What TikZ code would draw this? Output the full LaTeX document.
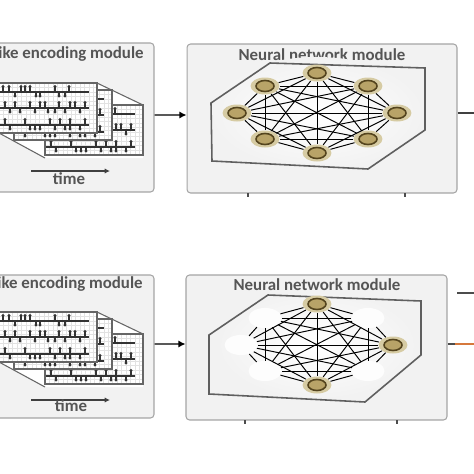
\documentclass[tikz,border=0pt]{standalone}
\usepackage{fontspec}
\setmainfont{Carlito}
\usetikzlibrary{shapes.geometric,arrows.meta}

\definecolor{boxgray}{RGB}{242,242,242}
\definecolor{boxline}{RGB}{165,165,165}
\definecolor{hexline}{RGB}{95,95,95}
\definecolor{tanlight}{RGB}{214,203,163}
\definecolor{tanmid}{RGB}{184,163,104}
\definecolor{tanline}{RGB}{84,68,30}
\definecolor{gridgray}{RGB}{226,226,226}
\definecolor{textgray}{RGB}{85,85,85}
\definecolor{orangeout}{RGB}{214,120,60}

% one row of spikes: y, spikes up, spikes down
\newcommand{\spikerow}[3]{%
  \draw[spikeline] (0,#1) -- (90,#1);
  \foreach \sx in {#2} {\draw[spikeline] (\sx,#1) -- (\sx,#1-5); \fill[black!80] (\sx,#1-5.5) circle (0.9pt);}
  \foreach \sx in {#3} {\draw[spikeline] (\sx,#1) -- (\sx,#1+3.5); \fill[black!80] (\sx,#1+4) circle (0.9pt);}
}
% one raster panel
\newcommand{\spikepanel}[1]{%
  \begin{scope}[shift={#1}]
    \fill[white] (0,0) rectangle (98,50);
    \foreach \gx in {4.5,9,...,94.5} \draw[gridline] (\gx,0) -- (\gx,50);
    \foreach \gy in {4.5,9,...,46} \draw[gridline] (0,\gy) -- (98,\gy);
    \spikerow{9}{4,10,22,26,31,56,70}{16,37,41,60,66}
    \spikerow{25}{6,16,31,41,46,60,71,76,86}{11,21,36,49,56,66,81}
    \spikerow{42}{6,26,51,61,71,86}{11,31,36,41,56,66,71,81}
    \draw[panelline] (0,0) rectangle (98,50);
  \end{scope}}
% stack of panels with time axis
\newcommand{\spikestack}{%
  \fill[white] (-1,83) -- (97,83) -- (143,105) -- (143,158) -- (45,158) -- (-1,133) -- cycle;
  \spikepanel{(45,105)}
  \spikepanel{(14,90)}
  \spikepanel{(-1,83)}
  \draw[panelline] (97,83) -- (143,105);
  \draw[panelline] (-1,133) -- (45,158);
  \draw[timearrow] (31,171) -- (110,171);
}

\begin{document}
\begin{tikzpicture}
[x=0.02cm,y=-0.02cm,
  modbox/.style={draw=boxline,fill=boxgray,rounded corners=2pt,line width=0.6pt},
  modtitle/.style={font=\fontsize{9.6}{11}\selectfont\bfseries,text=textgray,inner sep=0pt},
  gridline/.style={draw=gridgray,line width=0.25pt},
  spikeline/.style={line width=0.6pt,black!80},
  panelline/.style={draw=black!60,line width=0.6pt},
  timearrow/.style={-{Latex[length=3pt,width=3pt]},line width=0.6pt,black!75},
  flowarrow/.style={-{Latex[length=4pt,width=4pt]},line width=0.7pt},
  hexframe/.style={draw=hexline,line width=0.9pt},
  netedge/.style={line width=0.55pt,black},
  nnode/.style={ellipse,minimum width=0.58cm,minimum height=0.34cm,inner sep=0pt,fill=tanlight,
    path picture={\draw[tanline,line width=0.9pt,fill=tanmid] (path picture bounding box.center) ellipse (0.18cm and 0.11cm);}},
  fadenode/.style={ellipse,minimum width=0.66cm,minimum height=0.4cm,inner sep=0pt,fill=white,fill opacity=0.85}]
\useasboundingbox (0,0) rectangle (474,474);
\clip (0,0) rectangle (474,474);

% upper row
\node (enc1) at (72,117.5) [modbox,minimum width=3.28cm,minimum height=2.98cm] {};
\node (nn1) at (322,118.5) [modbox,minimum width=5.4cm,minimum height=2.98cm] {};
\node (enct1) at (144,54) [modtitle,anchor=east] {Spike encoding module};
\node (nnt1) at (322,55) [modtitle] {Neural network module};
\spikestack
\node (time1) at (69,179) [modtitle] {time};
% network
\shade[inner color=white,outer color=boxgray] (317,113) ellipse (108 and 56);
\draw[hexframe] (270,63) -- (425,68) -- (425,130) -- (368,169) -- (212,161) -- (211,103) -- cycle;
\node (a1) at (317,73) [nnode] {};
\node (a2) at (368,86) [nnode] {};
\node (a3) at (397,113) [nnode] {};
\node (a4) at (368,139) [nnode] {};
\node (a5) at (317,153) [nnode] {};
\node (a6) at (265,139) [nnode] {};
\node (a7) at (237,113) [nnode] {};
\node (a8) at (265,86) [nnode] {};
\foreach \i in {1,...,7} {
  \pgfmathtruncatemacro\k{\i+1}
  \foreach \j in {\k,...,8} \draw[netedge] (a\i) -- (a\j);
}
% links
\draw[flowarrow] ([yshift=0.05cm]enc1.east) -- ([yshift=0.07cm]nn1.west);
\coordinate (out1) at (474,113);
\draw[line width=0.8pt,black!75] (nn1.east |- out1) -- (out1);
\draw[line width=0.8pt,black!70] (248,193) -- (248,197) (405,193) -- (405,197);

% lower row
\node (enc2) at (72,346.5) [modbox,minimum width=3.28cm,minimum height=2.86cm] {};
\node (nn2) at (316.5,347.5) [modbox,minimum width=5.22cm,minimum height=2.9cm] {};
\node (enct2) at (143,284) [modtitle,anchor=east] {Spike encoding module};
\node (nnt2) at (317,285) [modtitle] {Neural network module};
\begin{scope}[shift={(0,229)}]
  \spikestack
\end{scope}
\node (time2) at (71,406) [modtitle] {time};
% network
\shade[inner color=white,outer color=boxgray] (317,345) ellipse (100 and 54);
\draw[hexframe] (268,295) -- (421,301) -- (421,355) -- (365,402) -- (209,394) -- (209,335) -- cycle;
\node (b1) at (317,304) [nnode] {};
\node (b2) at (368,318) [fadenode] {};
\node (b3) at (393,345) [nnode] {};
\node (b4) at (368,371) [fadenode] {};
\node (b5) at (317,385) [nnode] {};
\node (b6) at (265,371) [fadenode] {};
\node (b7) at (241,345) [fadenode] {};
\node (b8) at (265,318) [fadenode] {};
\foreach \i in {1,...,7} {
  \pgfmathtruncatemacro\k{\i+1}
  \foreach \j in {\k,...,8} \draw[netedge] (b\i) -- (b\j);
}
% links
\draw[flowarrow] ([yshift=0.05cm]enc2.east) -- ([yshift=0.07cm]nn2.west);
\coordinate (out2a) at (457,293);
\coordinate (out2) at (474,293);
\draw[line width=0.8pt,black!70] (out2a) -- (out2);
\coordinate (out3a) at (455,344);
\coordinate (out3) at (474,344);
\draw[line width=1pt,black!70] (nn2.east |- out3a) -- (out3a);
\draw[line width=1pt,orangeout] (out3a) -- (out3);
\draw[line width=0.8pt,black!70] (245,420) -- (245,424) (397,420) -- (397,424);
\end{tikzpicture}
\end{document}
